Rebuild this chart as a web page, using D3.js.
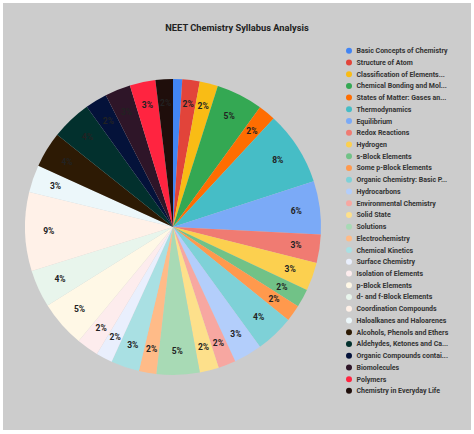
<!DOCTYPE html>
<html>
<head>
<meta charset="utf-8">
<script src="https://cdn.jsdelivr.net/npm/d3@7"></script>
<style>
  body { margin: 0; background: #fff; }
  svg { display: block; font-family: Roboto, "Noto Sans", sans-serif; }
</style>
</head>
<body>
<div id="container"></div>
<script>
// Chapters in legend / slice order
var chapters = ["Basic Concepts of Chemistry", "Structure of Atom", "Classification of Elements...",
  "Chemical Bonding and Mol...", "States of Matter: Gases an...", "Thermodynamics", "Equilibrium",
  "Redox Reactions", "Hydrogen", "s-Block Elements", "Some p-Block Elements", "Organic Chemistry: Basic P...",
  "Hydrocarbons", "Environmental Chemistry", "Solid State", "Solutions", "Electrochemistry",
  "Chemical Kinetics", "Surface Chemistry", "Isolation of Elements", "p-Block Elements",
  "d- and f-Block Elements", "Coordination Compounds", "Haloalkanes and Haloarenes",
  "Alcohols, Phenols and Ethers", "Aldehydes, Ketones and Ca...", "Organic Compounds contai...",
  "Biomolecules", "Polymers", "Chemistry in Everyday Life"]

// Share of the syllabus
var weights = [1.0, 1.9, 2.0, 5.1, 1.9, 8.1, 5.8, 3.1, 3.1, 2.0, 1.8, 4.2, 3.1, 1.9, 2.1,
  4.7, 1.9, 3.1, 1.8, 2.4, 5.1, 4.1, 8.6, 3.0, 3.9, 4.4, 2.4, 2.8, 2.8, 1.9]

// Slice colours
var colors = ["#4285f4", "#e2443a", "#f9bc15", "#34a853", "#ff6d01", "#46bdc6", "#7baaf7",
  "#f07b72", "#fcd04f", "#71c287", "#ff994d", "#7ed1d7", "#b3cefb", "#f7a7a1", "#fde08b",
  "#a8dab5", "#ffbb88", "#a9e0e3", "#e9effd", "#fdeced", "#fff8e6", "#e8f5ec", "#fff1e8",
  "#ecf7fa", "#2d1a04", "#02302d", "#04123a", "#2e1528", "#ff2440", "#1f0e0b"]

var width = 474;
var height = 434;
var cx = 173, cy = 227, radius = 148;

var svg = d3.select("#container")
            .append("svg")
            .attr("width", width)
            .attr("height", height)

// grey chart area
svg.append("rect")
   .attr("x", 3).attr("y", 3)
   .attr("width", 468).attr("height", 427)
   .attr("fill", "#cccccc")

svg.append("text")
   .attr("x", 237)
   .attr("y", 31)
   .attr("text-anchor", "middle")
   .attr("font-size", "9.3px")
   .attr("font-weight", "bold")
   .attr("fill", "#222")
   .text("NEET Chemistry Syllabus Analysis");

var pie = d3.pie().sort(null).value((d) => d.w)
var data = chapters.map((c, i) => ({name: c, w: weights[i], color: colors[i]}))
var arcs = pie(data)
var total = d3.sum(weights)

var arc = d3.arc().innerRadius(0).outerRadius(radius)
var labelArc = d3.arc().innerRadius(radius * 0.84).outerRadius(radius * 0.84)

var g = svg.append("g").attr("transform", "translate(" + cx + "," + cy + ")")

g.selectAll("path")
 .data(arcs)
 .enter()
 .append("path")
 .attr("d", arc)
 .attr("fill", (d) => d.data.color)

// percentage labels, skipped for slivers
g.selectAll("text")
 .data(arcs.filter((d) => d.data.w / total >= 0.015))
 .enter()
 .append("text")
 .attr("transform", (d) => "translate(" + labelArc.centroid(d) + ")")
 .attr("text-anchor", "middle")
 .attr("dy", "0.35em")
 .attr("font-size", "8.5px")
 .attr("font-weight", "bold")
 .attr("fill", "#222")
 .text((d) => Math.round(d.data.w / total * 100) + "%")

// legend
var legend = svg.append("g").attr("transform", "translate(349, 50.7)")
var rows = legend.selectAll("g")
 .data(data)
 .enter()
 .append("g")
 .attr("transform", (d, i) => "translate(0," + (i * 11.73) + ")")

rows.append("circle")
    .attr("r", 3)
    .attr("fill", (d) => d.color)

rows.append("text")
    .attr("x", 7.5)
    .attr("dy", "0.35em")
    .attr("font-size", "7px")
    .attr("font-weight", "bold")
    .attr("fill", "#333")
    .text((d) => d.name)
</script>
</body>
</html>
